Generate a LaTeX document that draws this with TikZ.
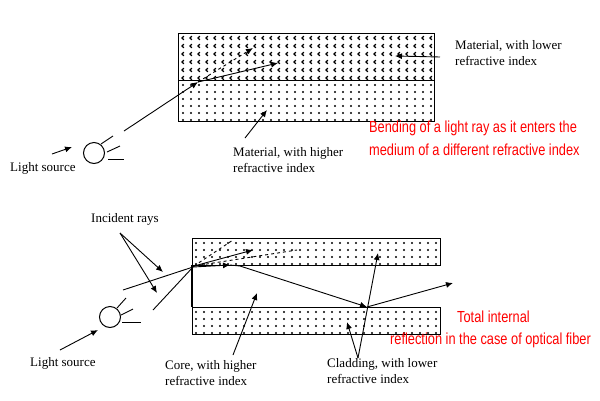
\documentclass[tikz,border=0pt]{standalone}
\usepackage{fontspec}
\setmainfont{Liberation Serif}
\newfontfamily\redfont[FakeStretch=0.8]{Liberation Sans}
\usetikzlibrary{arrows.meta}
\begin{document}
\begin{tikzpicture}[x=1pt,y=-1pt,
  lbl/.style={font=\fontsize{13}{16.5}\selectfont,align=left,inner sep=0pt,anchor=north west},
  red/.style={font=\redfont\fontsize{16}{23}\selectfont,text=red,align=left,inner sep=0pt,anchor=north west},
  ar/.style={-{Latex[length=7pt,width=6pt]},line width=0.9pt},
  ln/.style={line width=0.9pt},
  box/.style={draw,line width=1.4pt}]
\useasboundingbox (0,0) rectangle (600,400);
% ---------- top ----------
\begin{scope}
\clip (178,33) rectangle (434,80);
\foreach \x in {182,190,...,434}{\foreach \y in {38,46,...,80}{
  \draw[line width=1.3pt] (\x+1.8,\y-1.8)--(\x,\y)--(\x+1.8,\y+1.8);}}
\end{scope}
\foreach \x in {183,191,...,432}{\foreach \y in {85,92,...,120}{
  \fill (\x,\y) circle (1.1);}}
\node[box,minimum width=256pt,minimum height=88pt,anchor=north west] (tb) at (178,33) {};
\draw[line width=0.9pt] (178,80) -- (434,80);
\coordinate (tin) at (198,82);
\coordinate (tstart) at (124,131);
\coordinate (tref) at (278,63);
\coordinate (tdash) at (253,48);
\draw[ar] (tstart) -- (tin);
\draw[ar] (tin) -- (tref);
\draw[ar,dashed] (tin) -- (tdash);
\node[lbl] (tl) at (455,40) {Material, with lower\\refractive index};
\coordinate (tla) at (440,57);
\draw[ar] (tla) -- (395,56);
\node[lbl] (th) at (233,147) {Material, with higher\\refractive index};
\coordinate (tha) at (245,138);
\draw[ar] (tha) -- (267,110);
\node[circle,draw,line width=1pt,minimum size=21pt,inner sep=0pt] (ts) at (94,153) {};
\draw[ln] (101,144) -- (113,136);
\draw[ln] (107,152) -- (120,146);
\draw[ln] (108,159) -- (124,159);
\node[lbl] (tlsrc) at (10,162) {Light source};
\coordinate (tlsa) at (52,154);
\draw[ar] (tlsa) -- (72,147);
\node[red] (r1) at (369,121) {Bending of a light ray as it enters the\\medium of a different refractive index};
% ---------- bottom ----------
\foreach \x in {196,204,...,438}{\foreach \y in {243,250,...,264}{\fill (\x,\y) circle (1.1);}
  \foreach \y in {312,319,...,333}{\fill (\x,\y) circle (1.1);}}
\node[box,minimum width=248pt,minimum height=27pt,anchor=north west] (c1) at (192,238) {};
\node[box,minimum width=248pt,minimum height=27pt,anchor=north west] (c2) at (192,307) {};
\draw[line width=1.2pt] (192,265) -- (192,307);
\coordinate (a0) at (123,290);
\coordinate (a1) at (193,267);
\coordinate (a2) at (230,265);
\coordinate (a3) at (240,266);
\coordinate (a4) at (367,307);
\coordinate (a5) at (453,283);
\draw[ln] (a0) -- (a1);
\draw[ar] (a1) -- (a2);
\draw[ln] (a2) -- (a3);
\draw[ar] (a3) -- (a4);
\draw[ar] (a4) -- (a5);
\coordinate (b0) at (153,310);
\coordinate (b1) at (194,266);
\coordinate (b2) at (253,250);
\draw[ln] (b0) -- (b1);
\draw[ar] (b1) -- (b2);
\draw[dashed,ln] (b1) -- (233,240);
\draw[dashed,ln] (b1) -- (297,250);
\node[lbl] (inc) at (91,213) {Incident rays};
\coordinate (inca) at (120,233);
\draw[ar] (inca) -- (163,272);
\draw[ar] (inca) -- (157,293);
\node[circle,draw,line width=1pt,minimum size=21pt,inner sep=0pt] (bs) at (110,317) {};
\draw[ln] (117,308) -- (126,298);
\draw[ln] (121,315) -- (133,309);
\draw[ln] (122,322) -- (141,322);
\node[lbl] (blsrc) at (30,357) {Light source};
\coordinate (blsa) at (60,350);
\draw[ar] (blsa) -- (98,330);
\node[lbl] (core) at (165,360) {Core, with higher\\refractive index};
\coordinate (corea) at (233,355);
\draw[ar] (corea) -- (257,293);
\node[lbl] (clad) at (327,358) {Cladding, with lower\\refractive index};
\coordinate (clada) at (358,358);
\draw[ar] (clada) -- (378,253);
\draw[ar] (clada) -- (347,322);
\node[red] (r2) at (457,311) {Total internal};
\node[red] (r3) at (390,333) {reflection in the case of optical fiber};
\end{tikzpicture}
\end{document}
